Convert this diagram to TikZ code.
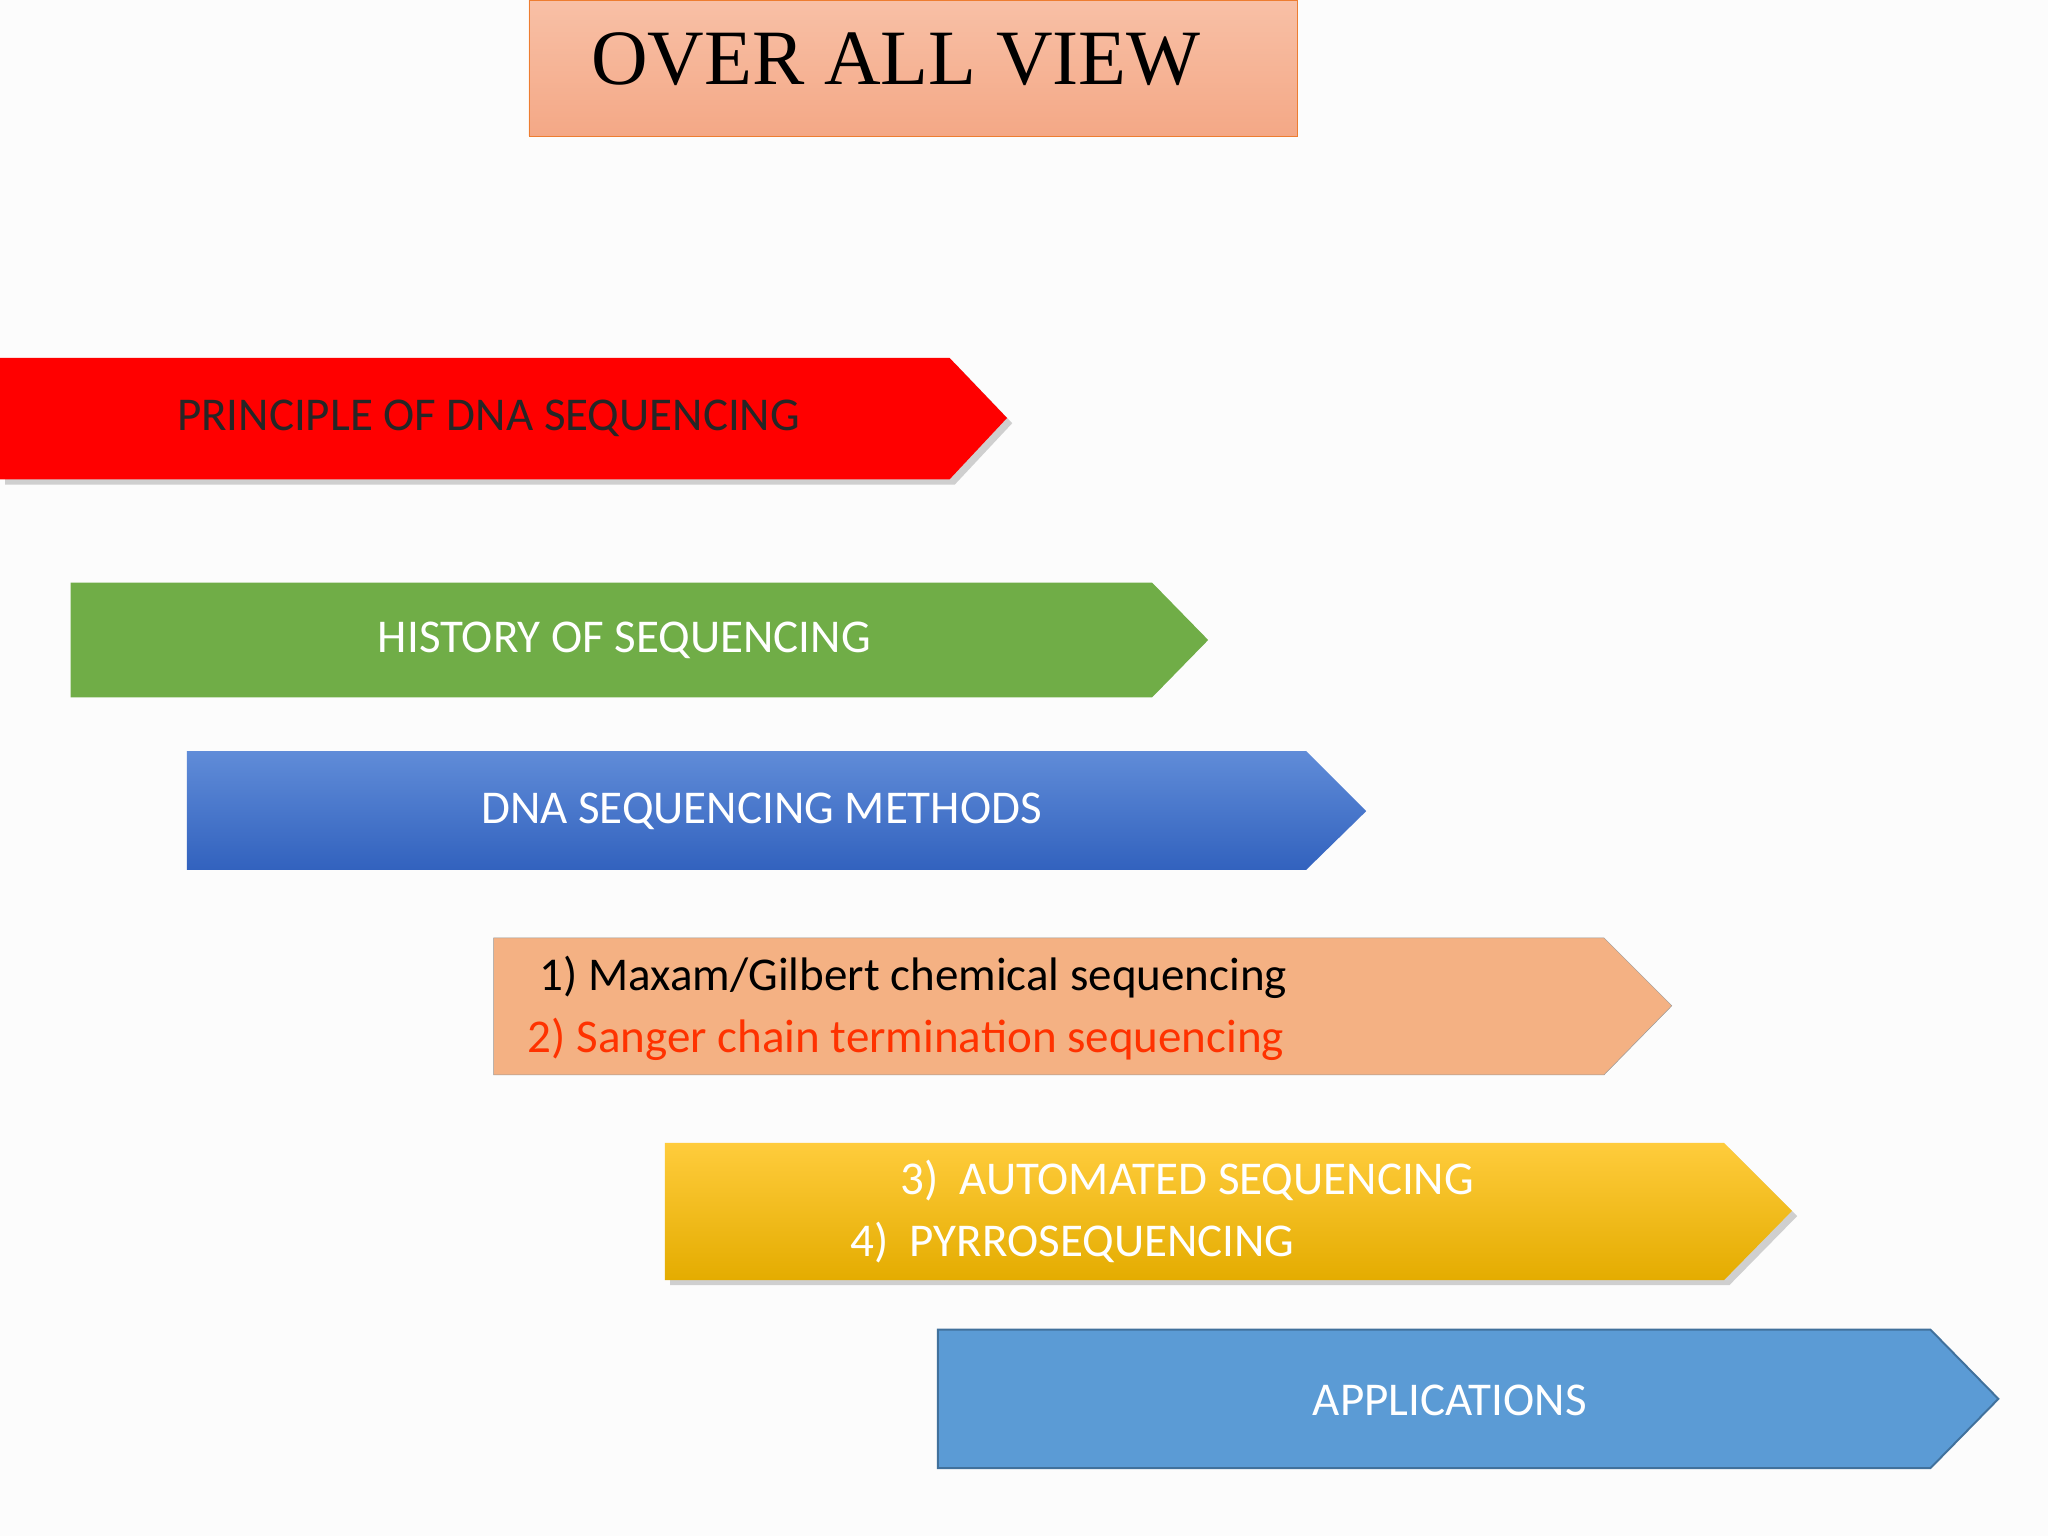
\documentclass[tikz,border=0pt]{standalone}
\usepackage{fontspec}
\setmainfont{Carlito}
\newfontfamily\titlefont{Liberation Serif}
\usetikzlibrary{shadings}
\definecolor{cred}{HTML}{FF0000}
\definecolor{cgreen}{HTML}{70AD47}
\definecolor{cpeach}{HTML}{F4B183}
\definecolor{cappl}{HTML}{5B9BD5}
\begin{document}
\begin{tikzpicture}[x={(1pt,0)},y={(0,-1pt)},
  lbl/.style={inner sep=0pt,font=\fontsize{36}{42}\selectfont},
  shad/.style={fill=black!30,opacity=0.6}]
\useasboundingbox (0,0) rectangle (1568,1176);
\fill[white!98!gray] (0,0) rectangle (1568,1176);
% title
\path[top color={rgb,255:red,248;green,192;blue,166},bottom color={rgb,255:red,244;green,168;blue,134},draw={rgb,255:red,237;green,125;blue,49}] (405,0) rectangle (993,104);
\node[inner sep=0pt,font=\titlefont\fontsize{60}{66}\selectfont] (title) at (686,45) {OVER ALL VIEW};
% red
\fill[shad] (4,278) -- (731,278) -- (775,324) -- (731,371) -- (4,371) -- cycle;
\fill[cred] (0,274) -- (727,274) -- (771,320) -- (727,367) -- (0,367) -- cycle;
\node[lbl,text=black!85] (p) at (374,320) {PRINCIPLE OF DNA SEQUENCING};
% green
\fill[cgreen] (54,446) -- (882,446) -- (925,490) -- (882,534) -- (54,534) -- cycle;
\node[lbl,text=white] (h) at (478,490) {HISTORY OF SEQUENCING};
% blue
\path[top color={rgb,255:red,96;green,140;blue,216},bottom color={rgb,255:red,50;green,98;blue,190}] (143,575) -- (1000,575) -- (1046,621) -- (1000,666) -- (143,666) -- cycle;
\node[lbl,text=white] (m) at (583,621) {DNA SEQUENCING METHODS};
% peach
\path[fill=cpeach,draw=black!40] (378,718) -- (1228,718) -- (1280,770) -- (1228,823) -- (378,823) -- cycle;
\node[lbl,anchor=west,text=black] (s1) at (413,748) {1) Maxam/Gilbert chemical sequencing};
\node[lbl,anchor=west,text={rgb,255:red,255;green,50;blue,0}] (s2) at (404,796) {2) Sanger chain termination sequencing};
% yellow
\fill[shad] (513,879) -- (1324,879) -- (1376,931) -- (1324,984) -- (513,984) -- cycle;
\path[top color={rgb,255:red,255;green,204;blue,60},middle color={rgb,255:red,252;green,196;blue,0},bottom color={rgb,255:red,228;green,172;blue,0}] (509,875) -- (1320,875) -- (1372,927) -- (1320,980) -- (509,980) -- cycle;
\node[lbl,anchor=west,text=white] (a) at (689,904) {3)\ \ AUTOMATED SEQUENCING};
\node[lbl,anchor=west,text=white] (b) at (651,951) {4)\ \ PYRROSEQUENCING};
% applications
\path[fill=cappl,draw={rgb,255:red,65;green,113;blue,156},line width=1.5pt] (718,1018) -- (1478,1018) -- (1530,1071) -- (1478,1124) -- (718,1124) -- cycle;
\node[lbl,text=white] (ap) at (1110,1072) {APPLICATIONS};
\end{tikzpicture}
\end{document}
